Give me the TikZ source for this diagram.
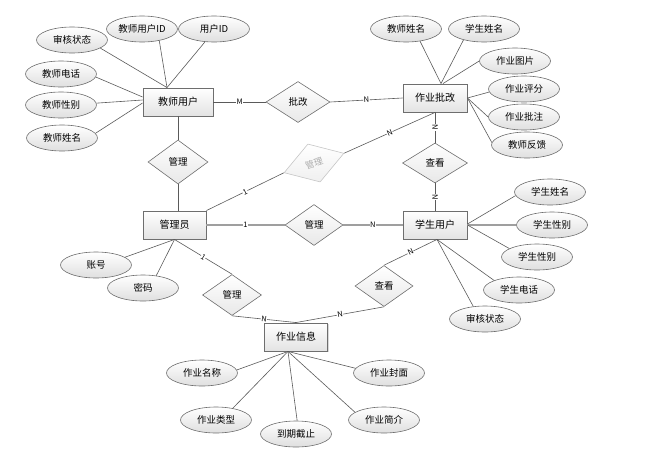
\documentclass[tikz,border=0pt]{standalone}
\usepackage{fontspec}
\setmainfont{Noto Sans CJK SC}
\usetikzlibrary{shapes.geometric,shadows}
\definecolor{edgec}{HTML}{5A5A5A}
\definecolor{bord}{HTML}{6E6E6E}
\begin{document}
\begin{tikzpicture}[x=1pt,y=-1pt,
  entity/.style={draw=bord, line width=0.9pt, top color=white, bottom color=gray!22,
    minimum width=64pt, minimum height=28pt, inner sep=0pt,
    font=\fontsize{10}{10}\selectfont,
    drop shadow={shadow xshift=1pt, shadow yshift=-1pt, opacity=0.3}},
  attr/.style={ellipse, draw=bord, line width=0.6pt, top color=white, bottom color=gray!25,
    minimum width=71pt, minimum height=26pt, inner sep=0pt,
    font=\fontsize{9.5}{9.5}\selectfont},
  relship/.style={diamond, draw=bord, line width=0.6pt, top color=white, bottom color=gray!18,
    minimum width=60pt, minimum height=42pt, inner sep=0pt,
    font=\fontsize{9.5}{9.5}\selectfont},
  lnk/.style={draw=edgec, line width=0.6pt},
  thk/.style={draw=gray!75, line width=1.3pt},
  card/.style={fill=white, inner sep=0.4pt, font=\fontsize{7.5}{7.5}\selectfont, sloped}]
\useasboundingbox (0,0) rectangle (660,455);

% entities
\node[entity, minimum width=70pt] (t) at (178,102) {教师用户};
\node[entity] (w) at (435,98) {作业批改};
\node[entity, minimum width=63pt] (a) at (174.5,225) {管理员};
\node[entity] (s) at (435,225) {学生用户};
\node[entity, minimum width=63pt] (i) at (296,337) {作业信息};

% relationships
\node[relship, minimum width=64pt, minimum height=41pt] (p) at (298,102) {批改};
\node[relship, minimum height=44pt] (m1) at (178,162) {管理};
\node[relship, rotate=18, draw=gray!45, top color=white, bottom color=gray!12, text=gray!65,
  font=\fontsize{9}{9}\selectfont,
  minimum width=63pt, minimum height=40pt] (f) at (314,163) {管理};
\node[relship, minimum width=58pt, minimum height=41pt] (m2) at (314,225) {管理};
\node[relship, minimum width=65pt, minimum height=40pt] (c1) at (435,163) {查看};
\node[relship, minimum width=59pt, minimum height=41pt] (m3) at (232,295) {管理};
\node[relship, minimum width=58pt, minimum height=41pt] (c2) at (384,286) {查看};

% attributes of 教师用户
\node[attr] (a1) at (72,40) {审核状态};
\node[attr] (a2) at (142,29) {教师用户ID};
\node[attr] (a3) at (214,29) {用户ID};
\node[attr] (a4) at (61,74) {教师电话};
\node[attr] (a5) at (61,105) {教师性别};
\node[attr] (a6) at (62,138) {教师姓名};

% attributes of 作业批改
\node[attr] (b1) at (406,29) {教师姓名};
\node[attr] (b2) at (484,29) {学生姓名};
\node[attr] (b3) at (515,61) {作业图片};
\node[attr] (b4) at (524,89) {作业评分};
\node[attr] (b5) at (524,117) {作业批注};
\node[attr] (b6) at (527,145) {教师反馈};

% attributes of 学生用户
\node[attr] (d1) at (550,192) {学生姓名};
\node[attr] (d2) at (552,225) {学生性别};
\node[attr] (d3) at (537,257) {学生性别};
\node[attr] (d4) at (519,290) {学生电话};
\node[attr] (d5) at (485,319) {审核状态};

% attributes of 管理员
\node[attr] (e1) at (96,265) {账号};
\node[attr] (e2) at (143,288) {密码};

% attributes of 作业信息
\node[attr] (g1) at (202,373) {作业名称};
\node[attr] (g2) at (216,420) {作业类型};
\node[attr] (g3) at (296,434) {到期截止};
\node[attr] (g4) at (384,420) {作业简介};
\node[attr] (g5) at (389,373) {作业封面};

% attribute links
\draw[lnk] (a1.-16) -- ([xshift=-11pt]t.north);
\draw[lnk] (a2.-34) -- ([xshift=-11pt]t.north);
\draw[lnk] (a3.-125) -- ([xshift=-11pt]t.north);
\draw[lnk] (a4.-5) -- ([yshift=5pt]t.west);
\draw[lnk] (a5.3) -- ([yshift=2pt]t.west);
\draw[lnk] (a6.8) -- ([yshift=-1pt]t.west);

\draw[lnk] (b1.-41) -- ([xshift=6pt]w.north);
\draw[lnk] (b2.-152) -- ([xshift=6pt]w.north);
\draw[lnk] (b3.180) -- ([xshift=8pt]w.north);
\draw[lnk] (b4.185) -- (w.east);
\draw[lnk] (b5.180) -- (w.east);
\draw[lnk] (b6.176) -- (w.east);

\draw[lnk] (d1.186) -- ([yshift=1pt]s.east);
\draw[thk] (d2.west) -- (s.east);
\draw[lnk] (d3.163) -- (s.east);
\draw[lnk] (d4.159) -- ([xshift=2pt]s.south);
\draw[lnk] (d5.133) -- ([xshift=2pt]s.south);

\draw[lnk] (e1.15) -- (a.south);
\draw[lnk] (e2.43) -- (a.south);

\draw[lnk] (g1.5) -- ([xshift=-8pt]i.south);
\draw[lnk] (g2.35) -- ([xshift=-8pt]i.south);
\draw[lnk] (g3.85) -- ([xshift=-8pt]i.south);
\draw[lnk] (g4.165) -- ([xshift=-8pt]i.south);
\draw[lnk] (g5.172) -- ([xshift=-8pt]i.south);

% relationship links
\draw[lnk] (t.east) -- node[card] {M} (p.west);
\draw[lnk] (p.east) -- node[card] {N} (w.west);
\draw[lnk] (t.south) -- (m1.north);
\draw[lnk] (m1.south) -- (m1.south |- a.north);
\draw[lnk] (a.north east) -- node[card] {1} (f.west);
\draw[lnk] (f.east) -- node[card] {N} (w.south);
\draw[thk] (a.east) -- node[card] {1} (m2.west);
\draw[thk] (m2.east) -- node[card] {N} (s.west);
\draw[lnk] (w.south) -- node[card] {N} (c1.north);
\draw[lnk] (c1.south) -- node[card] {N} (s.north);
\draw[lnk] (a.south) -- node[card] {1} (m3.north);
\draw[lnk] (m3.south) -- node[card] {N} (i.north);
\draw[lnk] (i.north) -- node[card] {N} (c2.south);
\draw[lnk] (c2.north) -- node[card] {N} ([xshift=2pt]s.south);
\end{tikzpicture}
\end{document}
